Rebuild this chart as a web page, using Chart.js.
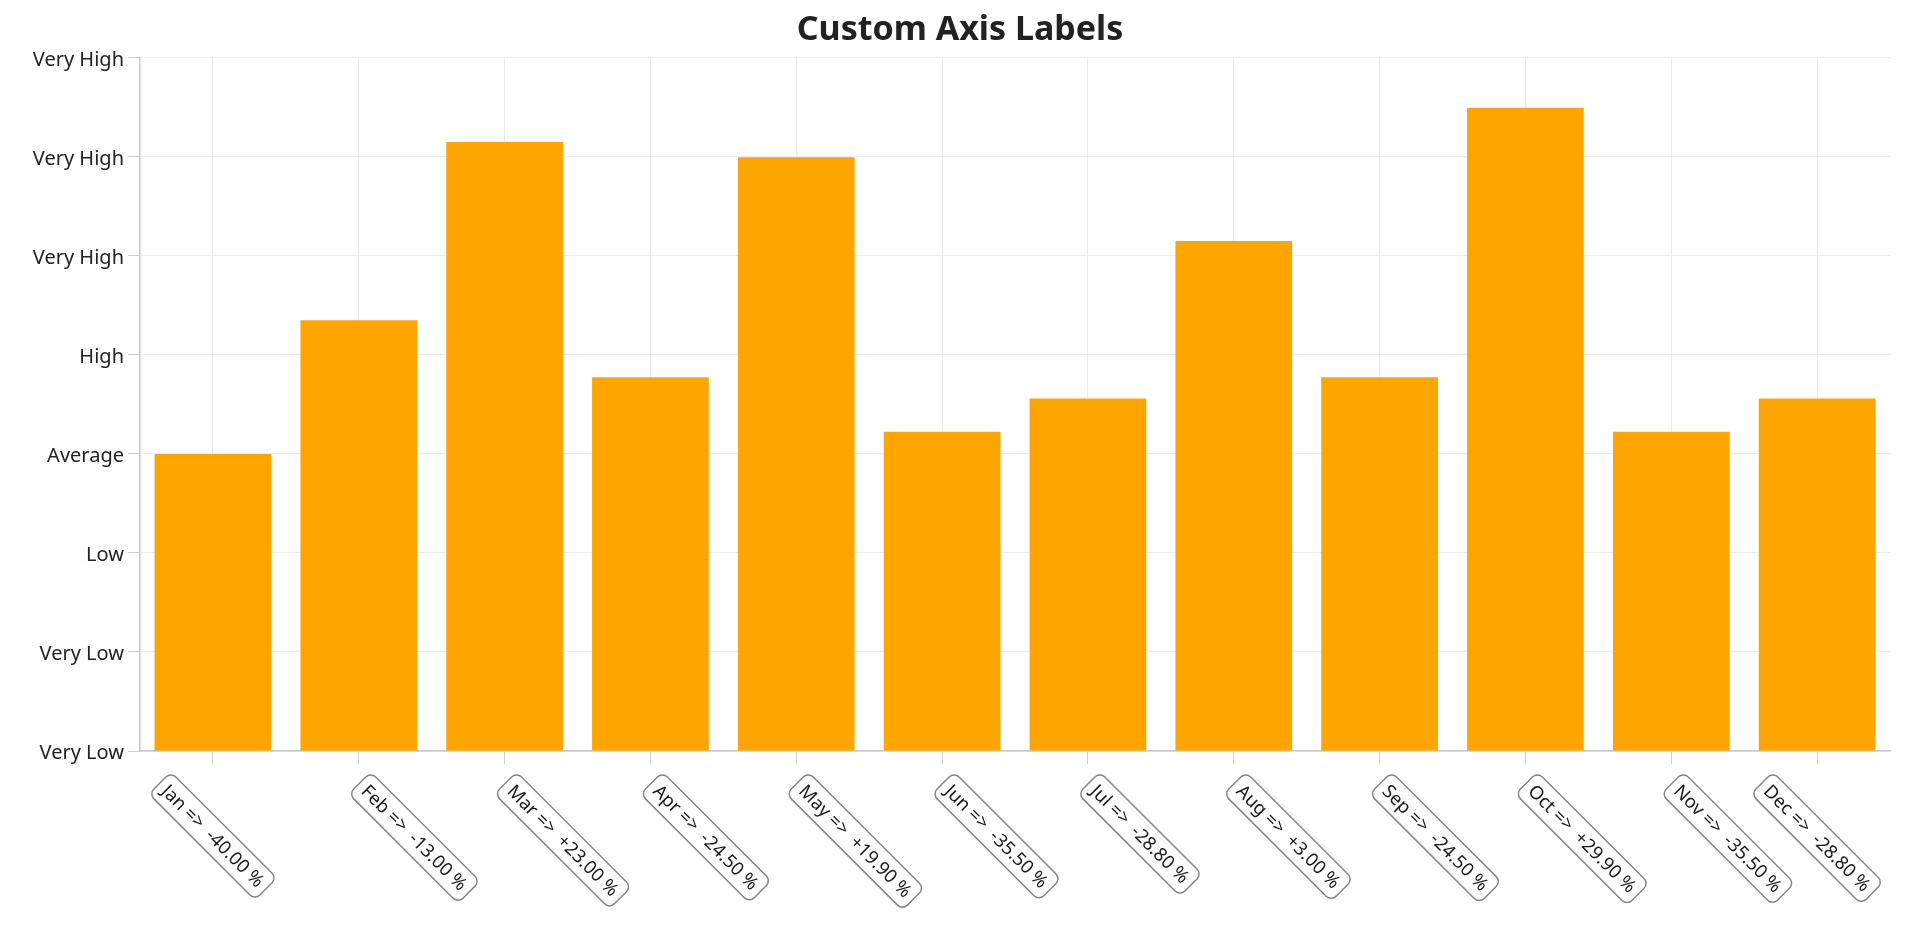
<!DOCTYPE html>
<html>
<head>
<meta charset="utf-8">
<script src="https://cdn.jsdelivr.net/npm/chart.js@4/dist/chart.umd.min.js"></script>
<style>
    html, body { margin: 0; padding: 0; background: #fff; }
    #wrap { width: 1920px; height: 931px; position: relative; }
</style>
</head>
<body>
<div id="wrap"><canvas id="chart"></canvas></div>
<script>
const months = ['Jan', 'Feb', 'Mar', 'Apr', 'May', 'Jun', 'Jul', 'Aug', 'Sep', 'Oct', 'Nov', 'Dec'];
const values = [30, 43.5, 61.5, 37.75, 59.95, 32.25, 35.6, 51.5, 37.75, 64.95, 32.25, 35.6];
const changes = [-40, -13, 23, -24.5, 19.9, -35.5, -28.8, 3, -24.5, 29.9, -35.5, -28.8];
const yLabels = ['Very Low', 'Very Low', 'Low', 'Average', 'High', 'Very High', 'Very High', 'Very High'];

const FONT = '"Noto Sans", "Open Sans", sans-serif';

function labelText(i) {
    const sign = changes[i] > 0 ? '+' : '';
    return `${months[i]} =>  ${sign}${changes[i].toFixed(2)} %`;
}

// draws the rotated, boxed month labels under the x axis
const boxedLabels = {
    id: 'boxedLabels',
    afterDraw(chart) {
        const ctx = chart.ctx;
        const xs = chart.scales.x;
        const last = months.length - 1;
        const h = 31;
        ctx.save();
        ctx.font = '18.5px ' + FONT;
        months.forEach((m, i) => {
            const text = labelText(i);
            const w = ctx.measureText(text).width + 14;
            const tx = xs.getPixelForTick(i);
            const y0 = xs.top + 21;
            // end labels are centred on the tick, the others hang off it
            const x0 = (i === 0 || i === last) ? tx - (w / 2 - h / 2) * Math.SQRT1_2 : tx + 12;
            ctx.save();
            ctx.translate(x0, y0);
            ctx.rotate(Math.PI / 4);
            ctx.beginPath();
            ctx.roundRect(0, 0, w, h, 7);
            ctx.fillStyle = '#ffffff';
            ctx.fill();
            ctx.lineWidth = 1.5;
            ctx.strokeStyle = '#858585';
            ctx.stroke();
            ctx.fillStyle = '#1a1a1a';
            ctx.textBaseline = 'middle';
            ctx.textAlign = 'left';
            ctx.fillText(text, 7, h / 2 + 1);
            ctx.restore();
        });
        ctx.restore();
    }
};

new Chart(document.getElementById('chart').getContext('2d'), {
    type: 'bar',
    data: {
        labels: months,
        datasets: [{
            data: values,
            backgroundColor: '#FFA500',
            borderWidth: 0,
            barPercentage: 1,
            categoryPercentage: 0.8
        }]
    },
    options: {
        responsive: true,
        maintainAspectRatio: false,
        animation: false,
        layout: {
            padding: 0
        },
        plugins: {
            legend: { display: false },
            tooltip: { enabled: false },
            title: {
                display: true,
                text: 'Custom Axis Labels',
                color: '#222222',
                font: { family: FONT, size: 34, weight: 'bold' },
                padding: { top: 10, bottom: 7 }
            }
        },
        scales: {
            x: {
                grid: {
                    offset: false,
                    color: '#ececec',
                    tickColor: '#cfcfcf',
                    tickLength: 13
                },
                border: { color: '#c8c8c8', width: 1.5 },
                ticks: { display: false },
                afterFit: (s) => { s.height = 180; }
            },
            y: {
                min: 0,
                max: 70,
                grid: {
                    color: '#ececec',
                    tickColor: '#cfcfcf',
                    tickLength: 12
                },
                border: { color: '#c8c8c8', width: 1.5 },
                ticks: {
                    stepSize: 10,
                    padding: 4,
                    labelOffset: 2,
                    color: '#222222',
                    font: { family: FONT, size: 20 },
                    callback: (v) => yLabels[Math.round(v / 10)]
                },
                afterFit: (s) => { s.width = 140; }
            },
            // empty right-hand axis, only keeps the plot off the right edge
            gap: {
                position: 'right',
                grid: { display: false, drawTicks: false },
                border: { display: false },
                ticks: { display: false },
                afterFit: (s) => { s.width = 30; }
            }
        }
    },
    plugins: [boxedLabels]
});
</script>
</body>
</html>
